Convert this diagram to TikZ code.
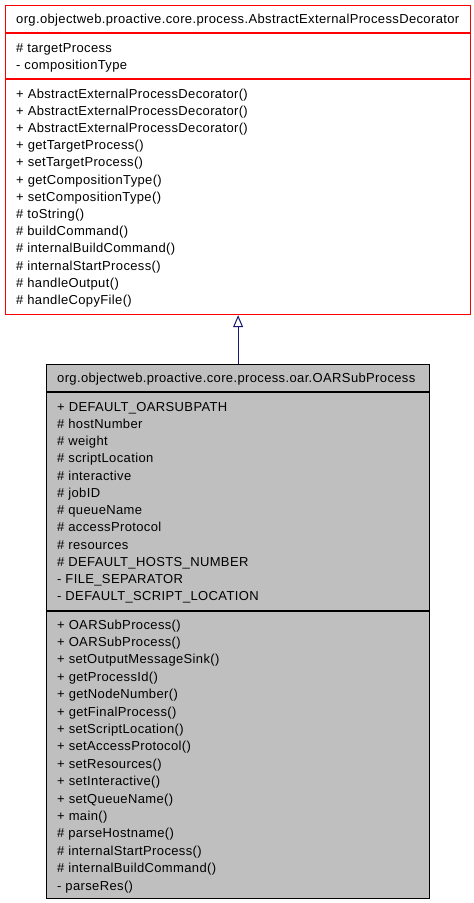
\documentclass[tikz,border=0pt]{standalone}
\usepackage{fontspec}
\setmainfont[LetterSpace=2.8]{Liberation Sans}
\usetikzlibrary{arrows.meta}
\definecolor{umlgray}{HTML}{BFBFBF}
\definecolor{umlnavy}{HTML}{191970}
\begin{document}
\begin{tikzpicture}[x=1pt,y=-1pt,
  txt/.style={anchor=base west, inner sep=0pt, font=\fontsize{13}{15}\selectfont},
  redbox/.style={draw=red, line width=1.2pt, fill=white, anchor=north west, inner sep=0pt},
  graybox/.style={draw=black, line width=1.2pt, fill=umlgray, anchor=north west, inner sep=0pt},
  inherit/.style={draw=umlnavy, line width=1pt, -{Triangle[open, length=12pt, width=10pt, line width=1pt]}}]
\useasboundingbox (0,0) rectangle (474,903);
\fill[white] (0,0) rectangle (474,903);
% top class
\node[redbox, minimum width=465pt, minimum height=309pt] (top) at (5,5) {};
\draw[red, line width=1.2pt] (5,33) -- (470,33);
\draw[red, line width=1.2pt] (5,79) -- (470,79);
\node[txt] (t0) at (16,23.5) {org.objectweb.proactive.core.process.AbstractExternalProcessDecorator};
\foreach \s [count=\i from 0] in {\# targetProcess, - compositionType}
  \node[txt] (ta\i) at (16,52.5+17.2*\i) {\s};
\foreach \s [count=\i from 0] in {+ AbstractExternalProcessDecorator(), + AbstractExternalProcessDecorator(), + AbstractExternalProcessDecorator(), + getTargetProcess(), + setTargetProcess(), + getCompositionType(), + setCompositionType(), \# toString(), \# buildCommand(), \# internalBuildCommand(), \# internalStartProcess(), \# handleOutput(), \# handleCopyFile()}
  \node[txt] (tm\i) at (16,98+17.2*\i) {\s};
% bottom class
\node[graybox, minimum width=383pt, minimum height=534pt] (sub) at (46,364) {};
\draw[black, line width=1.2pt] (46,392) -- (429,392);
\draw[black, line width=1.2pt] (46,611) -- (429,611);
\node[txt] (s0) at (57,382) {org.objectweb.proactive.core.process.oar.OARSubProcess};
\foreach \s [count=\i from 0] in {+ DEFAULT\_OARSUBPATH, \# hostNumber, \# weight, \# scriptLocation, \# interactive, \# jobID, \# queueName, \# accessProtocol, \# resources, \# DEFAULT\_HOSTS\_NUMBER, - FILE\_SEPARATOR, - DEFAULT\_SCRIPT\_LOCATION}
  \node[txt] (sa\i) at (57,411+17.27*\i) {\s};
\foreach \s [count=\i from 0] in {+ OARSubProcess(), + OARSubProcess(), + setOutputMessageSink(), + getProcessId(), + getNodeNumber(), + getFinalProcess(), + setScriptLocation(), + setAccessProtocol(), + setResources(), + setInteractive(), + setQueueName(), + main(), \# parseHostname(), \# internalStartProcess(), \# internalBuildCommand(), - parseRes()}
  \node[txt] (sm\i) at (57,629+17.4*\i) {\s};
% inheritance
\draw[inherit] (sub.north) -- (top.south);
\end{tikzpicture}
\end{document}
